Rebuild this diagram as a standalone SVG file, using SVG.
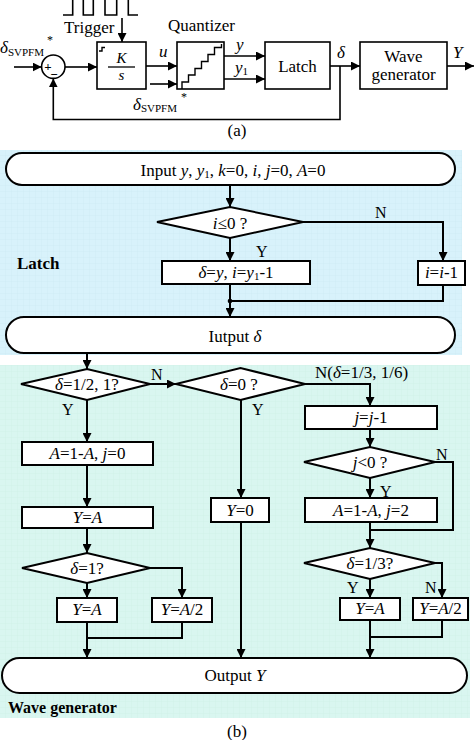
<svg xmlns="http://www.w3.org/2000/svg" width="474" height="740" viewBox="0 0 474 740">
<style>
text{font-family:"Liberation Serif","Times New Roman",serif;font-size:17px;fill:#000}
.f{font-size:17px}
.c{text-anchor:middle}
.i{font-style:italic}
.b{font-weight:bold}
.s{font-size:11px}
.ln{fill:none;stroke:#000;stroke-width:2}
.la{fill:none;stroke:#000;stroke-width:1.6}
.box{fill:#fff;stroke:#000;stroke-width:2}
.blk{fill:#fff;stroke:#000;stroke-width:1.6}
</style>
<defs>
<marker id="ar" viewBox="0 0 10 10" refX="10" refY="5" markerWidth="9" markerHeight="9" markerUnits="userSpaceOnUse" orient="auto"><path d="M0,0L10,5L0,10z" fill="#000"/></marker>
<pattern id="gL" width="6" height="6" patternUnits="userSpaceOnUse"><rect width="6" height="6" fill="#d8f2fb"/><path d="M6,0V6M0,6H6" stroke="#c9e9f3" stroke-width="0.6"/></pattern>
<pattern id="gW" width="6" height="6" patternUnits="userSpaceOnUse"><rect width="6" height="6" fill="#d9f6f0"/><path d="M6,0V6M0,6H6" stroke="#cbeee6" stroke-width="0.6"/></pattern>
</defs>
<rect width="474" height="740" fill="#fff"/>

<!-- (a) block diagram -->
<g id="trigger">
<path class="la" d="M63,15H72.7V-2H83.3V15H93.3V-2H105V15H116.7V-2H128.3V15H138"/>
<text x="64" y="33">Trigger</text>
</g>
<g id="sum">
<circle cx="53.3" cy="66.7" r="11.7" fill="#fff" stroke="#000" stroke-width="1.6"/>
<text x="48" y="71" class="c" style="font-size:13px;font-weight:bold">+</text>
<text x="54" y="79" class="c" style="font-size:13px;font-weight:bold">−</text>
<text x="0" y="53" class="i">δ<tspan class="s" style="font-style:normal" dy="3">SVPFM</tspan></text>
<text x="47" y="44" style="font-size:12px">*</text>
</g>
<g id="integrator">
<rect class="blk" x="97" y="42" width="49" height="47"/>
<path d="M99,51H102V47.5H105" fill="none" stroke="#000" stroke-width="1.4"/>
<text x="121.5" y="63" class="c i" style="font-size:15px">K</text>
<path d="M108,67H135" stroke="#000" stroke-width="1.3"/>
<text x="121.5" y="80" class="c i" style="font-size:15px">s</text>
</g>
<g id="quantizer">
<text x="168" y="31">Quantizer</text>
<rect class="blk" x="177" y="42" width="47" height="47"/>
<path d="M182,89V82H188.5V75H195V68.5H201.5V61.5H208V54.5H214.5V47.5H221.5V44" fill="none" stroke="#000" stroke-width="1.4"/>
<text x="133" y="110" class="i">δ<tspan class="s" style="font-style:normal" dy="2">SVPFM</tspan></text>
<text x="181" y="101" style="font-size:12px">*</text>
</g>
<g id="latch">
<rect class="blk" x="265" y="42" width="65" height="47"/>
<text x="297.5" y="72" class="c">Latch</text>
</g>
<g id="wavegen">
<rect class="blk" x="360" y="42" width="87" height="47"/>
<text x="403.5" y="62" class="c">Wave</text>
<text x="403.5" y="80" class="c">generator</text>
</g>
<g id="a-connectors">
<path class="la" d="M122,18V42" marker-end="url(#ar)"/>
<path class="la" d="M14,67H41.6" marker-end="url(#ar)"/>
<path class="la" d="M65,67H97" marker-end="url(#ar)"/>
<path class="la" d="M146,66H177" marker-end="url(#ar)"/>
<path class="la" d="M150,84H177" marker-end="url(#ar)"/>
<path class="la" d="M224,56H265" marker-end="url(#ar)"/>
<path class="la" d="M224,79H265" marker-end="url(#ar)"/>
<path class="la" d="M330,66H360" marker-end="url(#ar)"/>
<path class="la" d="M447,66H474" marker-end="url(#ar)"/>
<path class="la" d="M340,66V119.5H53.3V78.4" marker-end="url(#ar)"/>
<text x="159" y="57" class="i">u</text>
<text x="236" y="50" class="i">y</text>
<text x="235" y="73" class="i">y<tspan class="s" style="font-style:normal" dy="2">1</tspan></text>
<text x="337" y="58" class="i">δ</text>
<text x="453" y="58" class="i">Y</text>
</g>
<text x="237" y="136" class="c">(a)</text>

<!-- (b) panels -->
<rect x="0" y="150" width="462" height="205" fill="url(#gL)"/>
<rect x="0" y="365" width="470" height="353" fill="url(#gW)"/>
<text x="17" y="269" class="b">Latch</text>
<text x="8" y="713" class="b" style="font-size:16px">Wave generator</text>

<g id="b-connectors">
<path class="ln" d="M230,185V207" marker-end="url(#ar)"/>
<path class="ln" d="M230,238V261" marker-end="url(#ar)"/>
<path class="ln" d="M303,222H443V261" marker-end="url(#ar)"/>
<path class="ln" d="M443,285V301H230"/>
<path class="ln" d="M230,284V317" marker-end="url(#ar)"/>
<circle cx="230" cy="301" r="2.3" fill="#000"/>
<path class="ln" d="M87,353V369" marker-end="url(#ar)"/>
<path class="ln" d="M150,384H176" marker-end="url(#ar)"/>
<path class="ln" d="M87,400V442" marker-end="url(#ar)"/>
<path class="ln" d="M87,465V507" marker-end="url(#ar)"/>
<path class="ln" d="M87,528V553" marker-end="url(#ar)"/>
<path class="ln" d="M87,583V598" marker-end="url(#ar)"/>
<path class="ln" d="M150,568H182V598" marker-end="url(#ar)"/>
<path class="ln" d="M182,622V638H87"/>
<path class="ln" d="M87,622V658" marker-end="url(#ar)"/>
<path class="ln" d="M241,400V498" marker-end="url(#ar)"/>
<path class="ln" d="M241,522V658" marker-end="url(#ar)"/>
<path class="ln" d="M305,384H370V406" marker-end="url(#ar)"/>
<path class="ln" d="M370,429V447" marker-end="url(#ar)"/>
<path class="ln" d="M370,478V498" marker-end="url(#ar)"/>
<path class="ln" d="M435,462H453V530H370"/>
<path class="ln" d="M370,522V548" marker-end="url(#ar)"/>
<path class="ln" d="M370,579V598" marker-end="url(#ar)"/>
<path class="ln" d="M435,563H442V598" marker-end="url(#ar)"/>
<path class="ln" d="M442,620V637H370"/>
<path class="ln" d="M370,620V658" marker-end="url(#ar)"/>
<text x="256" y="257" style="font-size:16px">Y</text>
<text x="375" y="218" style="font-size:16px">N</text>
<text x="151" y="380" style="font-size:16px">N</text>
<text x="62" y="415" style="font-size:16px">Y</text>
<text x="252" y="415" style="font-size:16px">Y</text>
<text x="315" y="378" class="f">N(<tspan class="i">δ</tspan>=1/3, 1/6)</text>
<text x="436" y="460" style="font-size:16px">N</text>
<text x="380" y="497" style="font-size:16px">Y</text>
<text x="347" y="593" style="font-size:16px">Y</text>
<text x="425" y="593" style="font-size:16px">N</text>
</g>

<g id="input">
<rect class="box" x="6" y="153" width="449" height="32" rx="16"/>
<text x="233" y="176" class="c f">Input <tspan class="i">y</tspan>, <tspan class="i">y</tspan><tspan class="s" dy="2">1</tspan><tspan dy="-2">,  </tspan><tspan class="i">k</tspan>=0, <tspan class="i">i</tspan>,  <tspan class="i">j</tspan>=0, <tspan class="i">A</tspan>=0</text>
</g>
<g id="d-i">
<polygon class="box" points="157,222 230,207 303,222 230,238"/>
<text x="230" y="229" class="c f"><tspan class="i">i</tspan>≤0 ?</text>
</g>
<g id="latch-set">
<rect class="box" x="162" y="261" width="148" height="23"/>
<text x="236" y="278" class="c f"><tspan class="i">δ</tspan>=<tspan class="i">y</tspan>, <tspan class="i">i</tspan>=<tspan class="i">y</tspan><tspan class="s" dy="2">1</tspan><tspan dy="-2">-1</tspan></text>
</g>
<g id="dec-i">
<rect class="box" x="418" y="261" width="47" height="24"/>
<text x="441.5" y="278" class="c f"><tspan class="i">i</tspan>=<tspan class="i">i</tspan>-1</text>
</g>
<g id="out-delta">
<rect class="box" x="6" y="317" width="449" height="36" rx="18"/>
<text x="235" y="342" class="c f">Iutput <tspan class="i">δ</tspan></text>
</g>
<g id="d-half">
<polygon class="box" points="21,384 87,369 150,384 87,400"/>
<text x="87" y="390" class="c f"><tspan class="i">δ</tspan>=1/2, 1?</text>
</g>
<g id="d-zero">
<polygon class="box" points="176,384 240.5,368 305,384 240.5,400"/>
<text x="239" y="390" class="c f"><tspan class="i">δ</tspan>=0 ?</text>
</g>
<g id="toggle-a">
<rect class="box" x="22" y="442" width="131" height="23"/>
<text x="87.5" y="459" class="c f"><tspan class="i">A</tspan>=1-<tspan class="i">A</tspan>, <tspan class="i">j</tspan>=0</text>
</g>
<g id="ya">
<rect class="box" x="22" y="507" width="131" height="21"/>
<text x="87.5" y="523" class="c f"><tspan class="i">Y</tspan>=<tspan class="i">A</tspan></text>
</g>
<g id="d-one">
<polygon class="box" points="22,568 87,553 150,568 87,583"/>
<text x="87" y="574" class="c f"><tspan class="i">δ</tspan>=1?</text>
</g>
<g id="ya-l">
<rect class="box" x="57" y="598" width="60" height="24"/>
<text x="87" y="615" class="c f"><tspan class="i">Y</tspan>=<tspan class="i">A</tspan></text>
</g>
<g id="ya2-l">
<rect class="box" x="152" y="598" width="60" height="24"/>
<text x="182" y="615" class="c f"><tspan class="i">Y</tspan>=<tspan class="i">A</tspan>/2</text>
</g>
<g id="y0">
<rect class="box" x="211" y="498" width="58" height="24"/>
<text x="240" y="516" class="c f"><tspan class="i">Y</tspan>=0</text>
</g>
<g id="dec-j">
<rect class="box" x="305" y="406" width="132" height="23"/>
<text x="371" y="423" class="c f"><tspan class="i">j</tspan>=<tspan class="i">j</tspan>-1</text>
</g>
<g id="d-j">
<polygon class="box" points="304,462 370,447 435,462 370,478"/>
<text x="370" y="468" class="c f"><tspan class="i">j</tspan>&lt;0 ?</text>
</g>
<g id="toggle-a2">
<rect class="box" x="305" y="498" width="132" height="24"/>
<text x="371" y="516" class="c f"><tspan class="i">A</tspan>=1-<tspan class="i">A</tspan>, <tspan class="i">j</tspan>=2</text>
</g>
<g id="d-third">
<polygon class="box" points="304,563 370,548 435,563 370,579"/>
<text x="370" y="569" class="c f"><tspan class="i">δ</tspan>=1/3?</text>
</g>
<g id="ya-r">
<rect class="box" x="340" y="598" width="60" height="22"/>
<text x="370" y="614" class="c f"><tspan class="i">Y</tspan>=<tspan class="i">A</tspan></text>
</g>
<g id="ya2-r">
<rect class="box" x="413" y="598" width="55" height="22"/>
<text x="440.5" y="614" class="c f"><tspan class="i">Y</tspan>=<tspan class="i">A</tspan>/2</text>
</g>
<g id="out-y">
<rect class="box" x="2" y="658" width="465" height="35" rx="17.5"/>
<text x="235" y="681" class="c f">Output <tspan class="i">Y</tspan></text>
</g>
<text x="237" y="737" class="c">(b)</text>
</svg>
